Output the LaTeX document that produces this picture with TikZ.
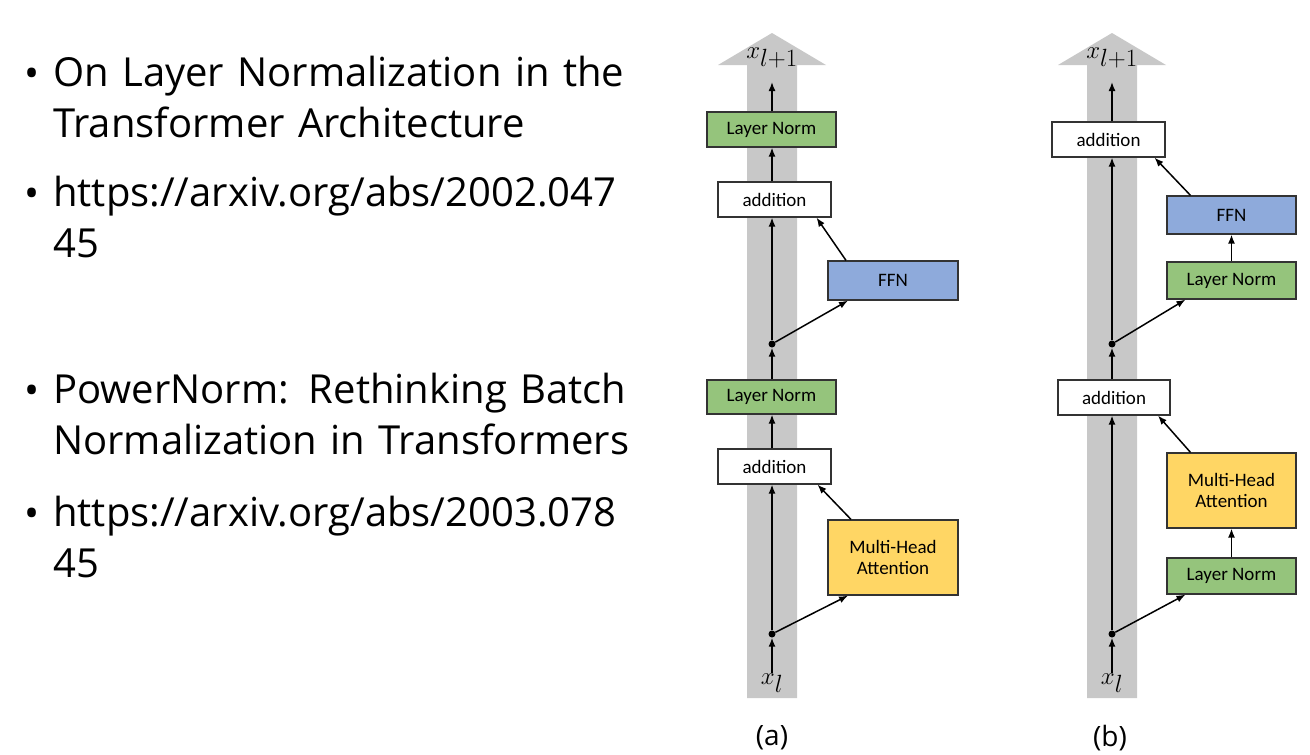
\documentclass[tikz,border=0pt]{standalone}
\usepackage{fontspec}
\usetikzlibrary{arrows.meta}
\setmainfont{Open Sans}
\newfontfamily\boxfont{Carlito}
\begin{document}
\begin{tikzpicture}[x=1pt,y=-1pt,
 bx/.style={draw=black!80,line width=1.2pt,inner sep=0pt,font=\boxfont\fontsize{19}{21}\selectfont},
 arr/.style={-{Latex[length=9pt,width=7pt]},line width=1.5pt},
 dotc/.style={circle,fill=black,inner sep=0pt,minimum size=7pt},
 bul/.style={anchor=north west,align=left,font=\fontsize{40}{51}\selectfont,text width=700pt,inner sep=0pt}]
\useasboundingbox (0,0) rectangle (1310,755);
\definecolor{gr}{RGB}{200,200,200}
\definecolor{lng}{RGB}{149,196,124}
\definecolor{ffb}{RGB}{142,170,219}
\definecolor{mhy}{RGB}{255,214,100}
% left text
\foreach \y/\t in {56/{On Layer Normalization in the\\Transformer Architecture},176/{https://arxiv.org/abs/2002.047\\45},373/{PowerNorm: Rethinking Batch\\Normalization in Transformers},496/{https://arxiv.org/abs/2003.078\\45}}{
 \node[bul] (t\y) at (53,\y) {\t};
 \node[font=\fontsize{40}{40}\selectfont,inner sep=0pt] (b\y) at (32,\y+22) {•};
}
% bands
\foreach \c/\n in {772/a,1112/b}{
 \fill[gr] (\c-25,698) -- (\c-25,65) -- (\c-54,65) -- (\c,33) -- (\c+54,65) -- (\c+25,65) -- (\c+25,698) -- cycle;
}
% (a)
\node[font=\fontsize{34}{34}\selectfont,inner sep=0pt] (axt) at (772,58) {$x_{l+1}$};
\node[font=\fontsize{34}{34}\selectfont,inner sep=0pt] (axl) at (772,683) {$x_l$};
\node[bx,fill=lng,minimum width=129pt,minimum height=35pt] (aln2) at (771.5,129.5) {Layer Norm};
\node[bx,fill=white,minimum width=113pt,minimum height=35pt] (aad2) at (774.5,199.5) {addition};
\node[bx,fill=ffb,minimum width=130pt,minimum height=39pt] (affn) at (893,280.5) {FFN};
\node[bx,fill=lng,minimum width=129pt,minimum height=34pt] (aln1) at (771.5,397) {Layer Norm};
\node[bx,fill=white,minimum width=113pt,minimum height=35pt] (aad1) at (774.5,466.5) {addition};
\node[bx,fill=mhy,minimum width=130pt,minimum height=75pt,align=center] (amha) at (893,557.5) {Multi-Head\\Attention};
\node[dotc] (ad1) at (772,634) {};
\node[dotc] (ad2) at (772,344) {};
\draw[arr] (axl.north) -- (ad1);
\draw[arr] (ad1) -- (aad1.south -| ad1);
\draw[arr] (ad1) -- ([xshift=-45pt]amha.south);
\draw[arr] ([xshift=-42pt]amha.north) -- ([xshift=43pt]aad1.south);
\draw[arr] (aad1.north -| ad1) -- (aln1.south -| ad1);
\draw[arr] (aln1.north -| ad1) -- (ad2);
\draw[arr] (ad2) -- ([xshift=-45pt]affn.south);
\draw[arr] ([xshift=-47pt]affn.north) -- ([xshift=42pt]aad2.south);
\draw[arr] (ad2) -- (aad2.south -| ad2);
\draw[arr] (aad2.north -| ad2) -- (aln2.south -| ad2);
\draw[arr] (aln2.north -| ad2) -- (772,82);
\node[font=\fontsize{28}{28}\selectfont] (la) at (772,738) {(a)};
% (b)
\node[font=\fontsize{34}{34}\selectfont,inner sep=0pt] (bxt) at (1112,58) {$x_{l+1}$};
\node[font=\fontsize{34}{34}\selectfont,inner sep=0pt] (bxl) at (1112,683) {$x_l$};
\node[bx,fill=white,minimum width=113pt,minimum height=35pt] (bad2) at (1108.5,139.5) {addition};
\node[bx,fill=ffb,minimum width=129pt,minimum height=38pt] (bffn) at (1231.5,215) {FFN};
\node[bx,fill=lng,minimum width=129pt,minimum height=37pt] (bln2) at (1231.5,280.5) {Layer Norm};
\node[bx,fill=white,minimum width=112pt,minimum height=35pt] (bad1) at (1114,397.5) {addition};
\node[bx,fill=mhy,minimum width=129pt,minimum height=75pt,align=center] (bmha) at (1231.5,490.5) {Multi-Head\\Attention};
\node[bx,fill=lng,minimum width=129pt,minimum height=36pt] (bln1) at (1231.5,576) {Layer Norm};
\node[dotc] (bd1) at (1112,634) {};
\node[dotc] (bd2) at (1112,344) {};
\draw[arr] (bxl.north) -- (bd1);
\draw[arr] (bd1) -- (bad1.south -| bd1);
\draw[arr] (bd1) -- ([xshift=-46pt]bln1.south);
\draw[arr] (bln1.north) -- (bmha.south);
\draw[arr] ([xshift=-41pt]bmha.north) -- ([xshift=44pt]bad1.south);
\draw[arr] (bad1.north -| bd1) -- (bd2);
\draw[arr] (bd2) -- ([xshift=-46pt]bln2.south);
\draw[arr] (bln2.north) -- (bffn.south);
\draw[arr] ([xshift=-41pt]bffn.north) -- ([xshift=46pt]bad2.south);
\draw[arr] (bd2) -- (bad2.south -| bd2);
\draw[arr] (bad2.north -| bd2) -- (1112,82);
\node[font=\fontsize{28}{28}\selectfont] (lb) at (1110,738) {(b)};
\end{tikzpicture}
\end{document}
